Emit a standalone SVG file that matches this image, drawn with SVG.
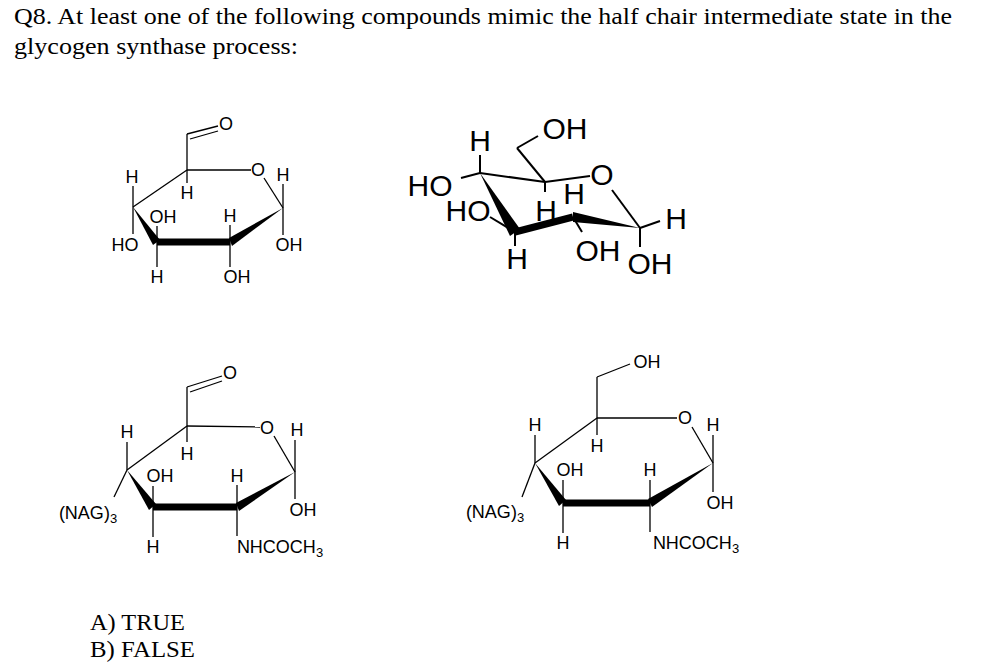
<svg xmlns="http://www.w3.org/2000/svg" width="1006" height="672" viewBox="0 0 1006 672">
<style>
.t{font-family:"Liberation Serif",serif;font-size:24px;fill:#000}
.a{font-family:"Liberation Sans",Arial,sans-serif;font-size:18px;fill:#000;text-anchor:middle}
.b{font-family:"Liberation Sans",Arial,sans-serif;font-size:30px;fill:#000;text-anchor:middle}
line,polyline{stroke:#000;stroke-width:1.3;fill:none}
.bb{stroke-width:2}
.bold{stroke-width:7}
polygon{fill:#000}
</style>
<rect width="1006" height="672" fill="#fff"/>
<text class="t" x="14" y="24" textLength="938" lengthAdjust="spacingAndGlyphs">Q8. At least one of the following compounds mimic the half chair intermediate state in the</text>
<text class="t" x="14" y="54" textLength="284" lengthAdjust="spacingAndGlyphs">glycogen synthase process:</text>
<text class="t" x="90" y="630" textLength="95" lengthAdjust="spacingAndGlyphs">A) TRUE</text>
<text class="t" x="90" y="657" textLength="105" lengthAdjust="spacingAndGlyphs">B) FALSE</text>

<g id="mol1">
<line x1="187" y1="170" x2="251" y2="170"/>
<line x1="264" y1="178" x2="283" y2="208"/>
<polygon points="283,208 229,238 232,246"/>
<line class="bold" x1="230" y1="242" x2="157" y2="242"/>
<polygon points="133,207 153,245 160,240"/>
<line x1="133" y1="207" x2="187" y2="170"/>
<line x1="187" y1="170" x2="187" y2="134"/>
<line x1="187" y1="134" x2="218" y2="126"/>
<line x1="190" y1="139" x2="218" y2="131"/>
<line x1="187" y1="170" x2="187" y2="183"/>
<line x1="133" y1="207" x2="133" y2="186"/>
<line x1="133" y1="207" x2="133" y2="234"/>
<line x1="157" y1="242" x2="157" y2="226"/>
<line x1="157" y1="242" x2="157" y2="267"/>
<line x1="230" y1="242" x2="230" y2="225"/>
<line x1="230" y1="242" x2="230" y2="267"/>
<line x1="283" y1="208" x2="283" y2="184"/>
<line x1="283" y1="208" x2="283" y2="235"/>
<text class="a" x="226" y="124" dy=".35em">O</text>
<text class="a" x="258" y="170" dy=".35em">O</text>
<text class="a" x="187" y="193" dy=".35em">H</text>
<text class="a" x="132" y="177" dy=".35em">H</text>
<text class="a" x="125" y="245" dy=".35em">HO</text>
<text class="a" x="163" y="217" dy=".35em">OH</text>
<text class="a" x="157" y="277" dy=".35em">H</text>
<text class="a" x="230" y="216" dy=".35em">H</text>
<text class="a" x="237" y="277" dy=".35em">OH</text>
<text class="a" x="283" y="175" dy=".35em">H</text>
<text class="a" x="289" y="245" dy=".35em">OH</text>
</g>

<g id="mol2">
<line class="bb" x1="480" y1="173" x2="545" y2="182"/>
<line class="bb" x1="545" y1="182" x2="590" y2="176"/>
<line class="bb" x1="612" y1="190" x2="640" y2="228"/>
<polygon points="640,228 573,212 573,222"/>
<line class="bold" x1="573" y1="217" x2="515" y2="232"/>
<polygon points="480,173 510,236 520,229"/>
<line class="bb" x1="480" y1="173" x2="480" y2="155"/>
<line class="bb" x1="480" y1="173" x2="461" y2="178"/>
<line class="bb" x1="545" y1="182" x2="517" y2="148"/>
<line class="bb" x1="517" y1="148" x2="538" y2="136"/>
<line class="bb" x1="545" y1="182" x2="545" y2="192"/>
<line class="bb" x1="515" y1="232" x2="490" y2="217"/>
<line class="bb" x1="515" y1="232" x2="515" y2="246"/>
<line class="bb" x1="573" y1="217" x2="582" y2="232"/>
<line class="bb" x1="640" y1="228" x2="660" y2="221"/>
<line class="bb" x1="640" y1="228" x2="640" y2="247"/>
<text class="b" x="480" y="140" dy=".35em">H</text>
<text class="b" x="430" y="185" dy=".35em">HO</text>
<text class="b" x="565" y="128" dy=".35em">OH</text>
<text class="b" x="602" y="174" dy=".35em">O</text>
<text class="b" x="546" y="210" dy=".35em">H</text>
<text class="b" x="574" y="193" dy=".35em">H</text>
<text class="b" x="468" y="210" dy=".35em">HO</text>
<text class="b" x="517" y="258" dy=".35em">H</text>
<text class="b" x="598" y="250" dy=".35em">OH</text>
<text class="b" x="676" y="218" dy=".35em">H</text>
<text class="b" x="650" y="263" dy=".35em">OH</text>
</g>

<g id="mol3">
<line x1="187" y1="426" x2="260" y2="427"/>
<line x1="274" y1="436" x2="295" y2="472"/>
<polygon points="295,472 236,503 239,511"/>
<line class="bold" x1="237" y1="507" x2="153" y2="507"/>
<polygon points="127,470 149,510 156,504"/>
<line x1="127" y1="470" x2="187" y2="426"/>
<line x1="187" y1="426" x2="187" y2="387"/>
<line x1="187" y1="387" x2="222" y2="376"/>
<line x1="190" y1="392" x2="222" y2="381"/>
<line x1="187" y1="426" x2="187" y2="442"/>
<line x1="127" y1="470" x2="127" y2="442"/>
<line x1="127" y1="470" x2="114" y2="497"/>
<line x1="153" y1="507" x2="153" y2="486"/>
<line x1="153" y1="507" x2="153" y2="537"/>
<line x1="237" y1="507" x2="237" y2="485"/>
<line x1="237" y1="507" x2="237" y2="536"/>
<line x1="295" y1="472" x2="295" y2="440"/>
<line x1="295" y1="472" x2="295" y2="499"/>
<text class="a" x="230" y="373" dy=".35em">O</text>
<text class="a" x="267" y="428" dy=".35em">O</text>
<text class="a" x="187" y="454" dy=".35em">H</text>
<text class="a" x="127" y="432" dy=".35em">H</text>
<text class="a" x="88" y="513" dy=".35em">(NAG)<tspan font-size="13" dy="4">3</tspan></text>
<text class="a" x="160" y="476" dy=".35em">OH</text>
<text class="a" x="153" y="547" dy=".35em">H</text>
<text class="a" x="237" y="476" dy=".35em">H</text>
<text class="a" x="280" y="547" dy=".35em">NHCOCH<tspan font-size="13" dy="4">3</tspan></text>
<text class="a" x="297" y="430" dy=".35em">H</text>
<text class="a" x="303" y="510" dy=".35em">OH</text>
</g>

<g id="mol4">
<line x1="597" y1="418" x2="677" y2="418"/>
<line x1="692" y1="427" x2="713" y2="463"/>
<polygon points="713,463 648,499 652,507"/>
<line class="bold" x1="650" y1="503" x2="563" y2="503"/>
<polygon points="535,463 559,506 566,500"/>
<line x1="535" y1="463" x2="597" y2="418"/>
<line x1="597" y1="418" x2="597" y2="377"/>
<line x1="597" y1="377" x2="630" y2="364"/>
<line x1="597" y1="418" x2="597" y2="435"/>
<line x1="535" y1="463" x2="535" y2="435"/>
<line x1="535" y1="463" x2="522" y2="497"/>
<line x1="563" y1="503" x2="563" y2="480"/>
<line x1="563" y1="503" x2="563" y2="533"/>
<line x1="650" y1="503" x2="650" y2="480"/>
<line x1="650" y1="503" x2="650" y2="532"/>
<line x1="713" y1="463" x2="713" y2="435"/>
<line x1="713" y1="463" x2="713" y2="492"/>
<text class="a" x="647" y="362" dy=".35em">OH</text>
<text class="a" x="685" y="418" dy=".35em">O</text>
<text class="a" x="597" y="446" dy=".35em">H</text>
<text class="a" x="535" y="425" dy=".35em">H</text>
<text class="a" x="495" y="512" dy=".35em">(NAG)<tspan font-size="13" dy="4">3</tspan></text>
<text class="a" x="570" y="470" dy=".35em">OH</text>
<text class="a" x="563" y="543" dy=".35em">H</text>
<text class="a" x="650" y="470" dy=".35em">H</text>
<text class="a" x="696" y="543" dy=".35em">NHCOCH<tspan font-size="13" dy="4">3</tspan></text>
<text class="a" x="713" y="425" dy=".35em">H</text>
<text class="a" x="720" y="503" dy=".35em">OH</text>
</g>
</svg>
